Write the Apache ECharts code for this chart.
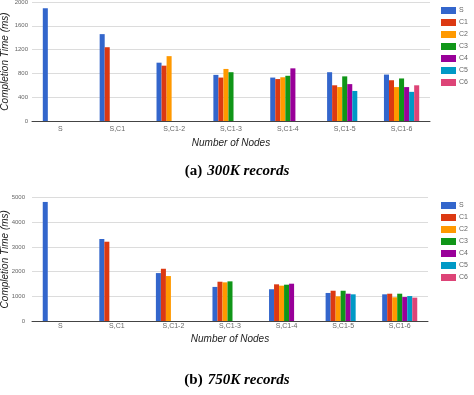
<!DOCTYPE html>
<html><head><meta charset="utf-8">
<script src="https://cdn.jsdelivr.net/npm/echarts@6/dist/echarts.min.js"></script>
<style>html,body{margin:0;padding:0;background:#fff}#c{width:474px;height:395px}</style>
</head><body><div id="c"></div>
<script>
const categories = ['S', 'S,C1', 'S,C1-2', 'S,C1-3', 'S,C1-4', 'S,C1-5', 'S,C1-6'];
const seriesNames = ['S', 'C1', 'C2', 'C3', 'C4', 'C5', 'C6'];
const colors = ['#3366cc', '#dc3912', '#ff9900', '#109618', '#990099', '#0099c6', '#dd4477'];
// 300K records
const a_S  = [1895, 1460, 980, 775, 730, 820, 780];
const a_C1 = [null, 1240, 930, 730, 705, 600, 685];
const a_C2 = [null, null, 1090, 875, 735, 570, 570];
const a_C3 = [null, null, null, 820, 760, 750, 715];
const a_C4 = [null, null, null, null, 885, 620, 570];
const a_C5 = [null, null, null, null, null, 505, 490];
const a_C6 = [null, null, null, null, null, null, 600];
// 750K records
const b_S  = [4820, 3320, 1940, 1380, 1285, 1135, 1080];
const b_C1 = [null, 3210, 2115, 1590, 1485, 1225, 1105];
const b_C2 = [null, null, 1820, 1565, 1430, 1000, 960];
const b_C3 = [null, null, null, 1605, 1470, 1225, 1105];
const b_C4 = [null, null, null, null, 1510, 1105, 970];
const b_C5 = [null, null, null, null, null, 1080, 1010];
const b_C6 = [null, null, null, null, null, null, 945];
const topTicks = [0, 400, 800, 1200, 1600, 2000];
const botTicks = [0, 1000, 2000, 3000, 4000, 5000];

const aData = [a_S, a_C1, a_C2, a_C3, a_C4, a_C5, a_C6];
const bData = [b_S, b_C1, b_C2, b_C3, b_C4, b_C5, b_C6];

const chart = echarts.init(document.getElementById('c'), null, {renderer: 'canvas'});
const labelFont = {color: '#666', fontFamily: 'Liberation Sans'};
const nameStyle = {fontStyle: 'italic', fontSize: 10, color: '#222', fontFamily: 'Liberation Sans'};
function xAxis(gi, labelMargin, nameGap) {
  return {
    type: 'category', gridIndex: gi, data: categories,
    axisLine: {lineStyle: {color: '#444', width: 1}},
    axisTick: {show: false},
    axisLabel: Object.assign({margin: labelMargin, fontSize: 7}, labelFont),
    name: 'Number of Nodes', nameLocation: 'middle', nameGap: nameGap,
    nameMoveOverlap: false, nameTextStyle: nameStyle
  };
}
function yAxis(gi, ticks, fs, margin, nameGap) {
  return {
    type: 'value', gridIndex: gi, min: ticks[0], max: ticks[ticks.length - 1],
    interval: ticks[1] - ticks[0],
    axisLine: {show: false}, axisTick: {show: false},
    axisLabel: Object.assign({margin: margin, fontSize: fs, formatter: v => String(v)}, labelFont),
    splitLine: {lineStyle: {color: '#dcdcdc', width: 1}},
    name: 'Completion Time (ms)', nameLocation: 'middle', nameGap: nameGap,
    nameMoveOverlap: false, nameTextStyle: nameStyle
  };
}
// Grouped bars where every series keeps its slot (missing bars leave a gap), drawn via axis scales
const GROUP_FRAC = 0.62;
const N = seriesNames.length;
function makeSeries(name, idx, arr, gi) {
  const data = [];
  arr.forEach((v, ci) => { if (v != null) data.push([ci, v]); });
  return {
    name: name, type: 'custom', xAxisIndex: gi, yAxisIndex: gi,
    itemStyle: {color: colors[idx]},
    encode: {x: 0, y: 1},
    data: data,
    renderItem: function (params, api) {
      const ci = api.value(0), v = api.value(1);
      const base = api.coord([ci, 0]);
      const top = api.coord([ci, v]);
      const band = api.size([1, 0])[0];
      const bw = band * GROUP_FRAC / N;
      const x0 = base[0] - band * GROUP_FRAC / 2 + idx * bw;
      return {type: 'rect', shape: {x: x0, y: top[1], width: bw, height: base[1] - top[1]},
        style: {fill: colors[idx]}};
    }
  };
}
const series = [];
seriesNames.forEach((n, i) => series.push(makeSeries(n, i, aData[i], 0)));
seriesNames.forEach((n, i) => series.push(makeSeries(n, i, bData[i], 1)));
function legend(top) {
  return {
    data: seriesNames.map((n, i) => ({name: n, itemStyle: {color: colors[i]}})),
    orient: 'vertical', left: 436, top: top,
    itemWidth: 15, itemHeight: 7, itemGap: 5, icon: 'rect',
    textStyle: {fontSize: 7, color: '#666', fontFamily: 'Liberation Sans', padding: [0, 0, 0, -2]},
    selectedMode: false
  };
}
const captionRich = {
  b: {fontWeight: 'bold', fontFamily: 'Liberation Serif', fontSize: 15, color: '#000'},
  i: {fontStyle: 'italic', fontFamily: 'Liberation Serif', fontSize: 15, color: '#000'}
};
chart.setOption({
  animation: false,
  backgroundColor: '#fff',
  grid: [
    {left: 32, top: 2, width: 398, height: 119, containLabel: false, outerBoundsMode: 'none'},
    {left: 32, top: 197.5, width: 396, height: 123.5, containLabel: false, outerBoundsMode: 'none'}
  ],
  xAxis: [xAxis(0, 5, 17), xAxis(1, 2, 13)],
  yAxis: [yAxis(0, topTicks, 6, 4, 22), yAxis(1, botTicks, 6, 7, 22)],
  legend: [legend(2), legend(197)],
  title: [
    {text: '{b|(a)} {i|300K records}', left: 'center', top: 157, textStyle: {rich: captionRich}},
    {text: '{b|(b)} {i|750K records}', left: 'center', top: 366, textStyle: {rich: captionRich}}
  ],
  series: series
});
</script></body></html>
